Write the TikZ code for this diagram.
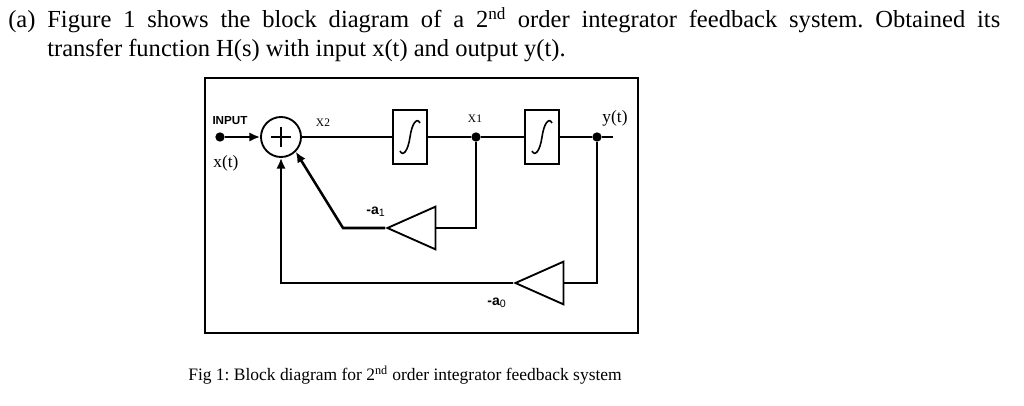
\documentclass[tikz,border=0pt]{standalone}
\usepackage{fontspec}
\setmainfont{Liberation Serif}
\setsansfont{Liberation Sans}
\usepackage{tikz}
\usetikzlibrary{shapes.geometric, arrows.meta, positioning}
\frenchspacing
\tikzstyle{block} = [draw, fill=white, rectangle, line width=1.4pt, minimum width=26pt, minimum height=40.5pt, inner sep=0pt]
\tikzstyle{integ} = [block, path picture={\draw [line width=1.2pt, shift={(path picture bounding box.center)}]
    (-10,14) .. controls (-7,20) and (-2,14) .. (0,0) .. controls (2,-14) and (7,-20) .. (10,-14);}]
\tikzstyle{sum} = [draw, circle, fill=white, line width=1.4pt, minimum size=30pt, inner sep=0pt,
    path picture={\draw [line width=1.4pt, shift={(path picture bounding box.center)}] (-10,0) -- (10,0) (0,-10) -- (0,10);}]
\tikzstyle{gain} = [draw, isosceles triangle, isosceles triangle stretches, shape border rotate=180,
    minimum width=32pt, minimum height=36pt, inner sep=0pt, line width=1.4pt]
\tikzstyle{dot} = [circle, fill, minimum size=7pt, inner sep=0pt]
\tikzstyle{wire} = [line width=1.9pt]
\newcommand{\gainlbl}[1]{\textsf{\textbf{-a}\textsubscript{\fontsize{8}{9}\selectfont #1}}}

\begin{document}
\begin{tikzpicture}[x=0.75pt, y=-0.75pt, >={Latex[length=8pt,width=7pt]}]
    \useasboundingbox (0,0) rectangle (1024,406);
    \node [anchor=north west, inner sep=0pt, text width=744pt, align=justify, font=\fontsize{18.4}{22}\selectfont] (task) at (8,7)
        {\hangindent=29.25pt\hangafter=1 (a) Figure 1 shows the block diagram of a 2\textsuperscript{nd} order integrator feedback system. Obtained its\linebreak transfer function H(s) with input x(t) and output y(t).\par};
    \draw [line width=1.4pt] (205,78) rectangle (638,333);
    \node [dot] (xin) at (220,137) {};
    \node [sum] (add) at (281,137) {};
    \node [integ] (int1) at (410,137) {};
    \node [dot] (x1) at (476,137) {};
    \node [integ] (int2) at (542,137) {};
    \node [dot] (yout) at (597,137) {};
    \coordinate (out) at (613,137);
    \node [gain, anchor=apex] (g1) at (385,228) {};
    \node [gain, anchor=apex] (g0) at (513,283) {};
    \coordinate (bend) at (343,228);
    \node [font=\sffamily\bfseries\fontsize{8.75}{10}\selectfont] (lin) at (230,120.5) {INPUT};
    \node [font=\fontsize{13}{15}\selectfont] (lxt) at (226,163) {x(t)};
    \node [font=\fontsize{8.6}{10}\selectfont] (lx2) at (323,123) {X2};
    \node [font=\fontsize{8.6}{10}\selectfont] (lx1) at (475,118.5) {X1};
    \node [font=\fontsize{13}{15}\selectfont] (lyt) at (615,118) {y(t)};
    \node [font=\fontsize{10.5}{12}\selectfont] (la1) at (376,212) {\gainlbl{1}};
    \node [font=\fontsize{10.5}{12}\selectfont] (la0) at (497,303) {\gainlbl{0}};
    \draw [wire,->] (xin) -- (add);
    \draw [wire] (add) -- (int1) -- (x1) -- (int2) -- (yout) -- (out);
    \draw [wire] (x1) |- (g1.lower side);
    \draw [wire,->] (g1.apex) -- (bend) -- (add.-45);
    \draw [wire] (yout) |- (g0.lower side);
    \draw [wire,->] (g0.apex) -| (add.south);
    \node [font=\fontsize{13.1}{15}\selectfont] (cap) at (405,375) {Fig 1: Block diagram for 2\textsuperscript{nd} order integrator feedback system};
\end{tikzpicture}
\end{document}
